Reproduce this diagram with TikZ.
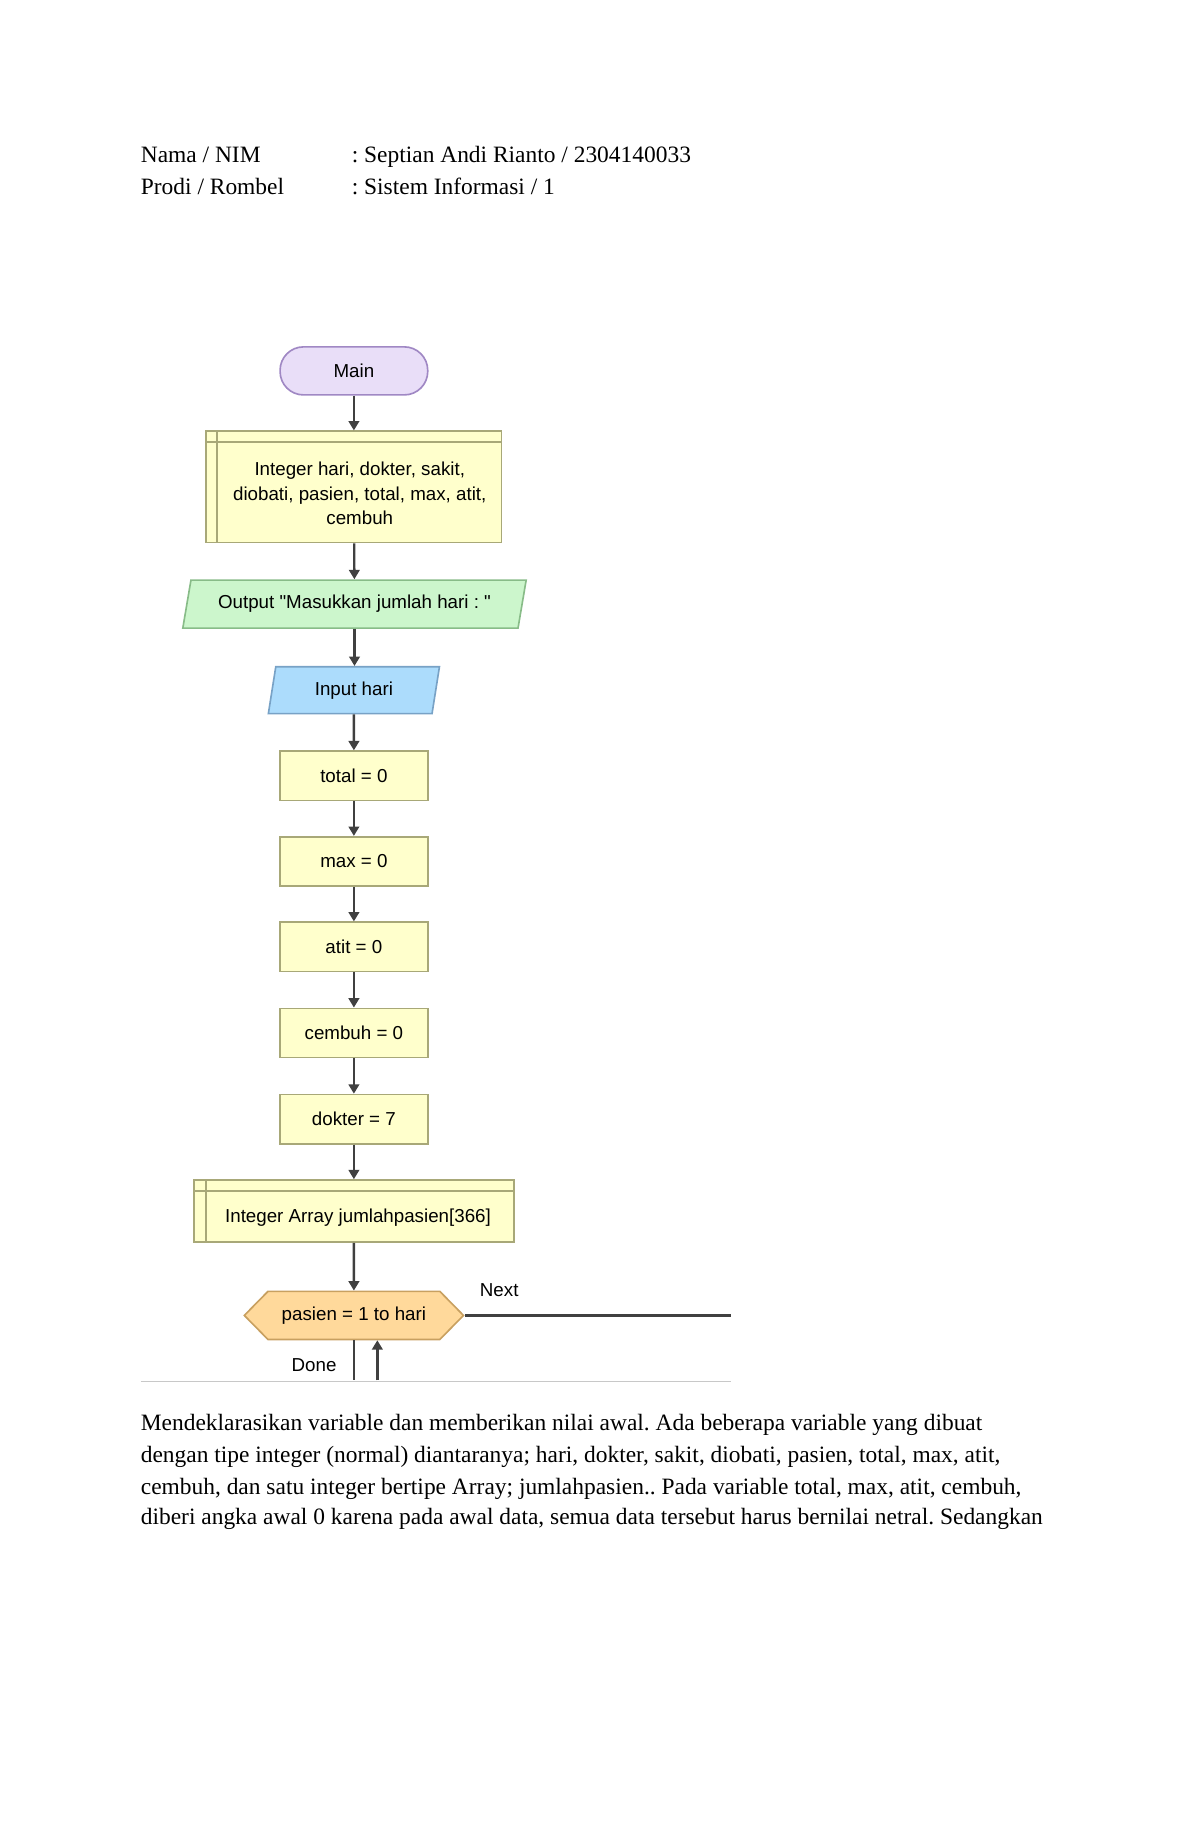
\documentclass[tikz,border=0pt]{standalone}
\usepackage{fontspec}
\setmainfont{Liberation Serif}
\newfontfamily\flowfont{Liberation Sans}
\usetikzlibrary{shapes.geometric,shapes.symbols,arrows.meta}
\frenchspacing
\definecolor{arrowc}{HTML}{404040}
\definecolor{termfill}{HTML}{E9DEF8}
\definecolor{termdraw}{HTML}{A088C4}
\definecolor{procfill}{HTML}{FFFFCC}
\definecolor{procdraw}{HTML}{A8A878}
\definecolor{outfill}{HTML}{CCF6CC}
\definecolor{outdraw}{HTML}{88BC88}
\definecolor{infill}{HTML}{ACDCFC}
\definecolor{indraw}{HTML}{78A2C6}
\definecolor{loopfill}{HTML}{FFD99B}
\definecolor{loopdraw}{HTML}{C8A060}
\definecolor{sepc}{HTML}{C8C8C8}
\tikzset{
  flowtext/.style={font=\flowfont\fontsize{16}{21}\selectfont, align=center, inner sep=0pt},
  doctext/.style={font=\fontsize{20}{27}\selectfont, anchor=base west, inner sep=0pt},
  termbox/.style={draw=termdraw, fill=termfill, line width=1.4pt, rounded corners=20pt,
    minimum width=126pt, minimum height=41pt, flowtext},
  procbox/.style={draw=procdraw, fill=procfill, line width=1.4pt,
    minimum width=126pt, minimum height=42pt, flowtext},
  declbox/.style={draw=procdraw, fill=procfill, line width=1.4pt, inner sep=0pt},
  innerline/.style={draw=procdraw, line width=1.2pt},
  iobox/.style={trapezium, trapezium stretches body, line width=1.4pt, flowtext},
  loopbox/.style={signal, signal to=east and west, signal pointer angle=91,
    draw=loopdraw, fill=loopfill, line width=1.4pt, minimum width=187pt, minimum height=41pt, flowtext},
  flowarrow/.style={draw=arrowc, line width=2pt, -{Triangle[width=9pt,length=8pt]}},
  flowline/.style={draw=arrowc, line width=2pt},
}
\begin{document}
\begin{tikzpicture}[x=1pt,y=-1pt]
\useasboundingbox (0,0) rectangle (1024,1565.9);

% header
\node[doctext] (h1a) at (120,139) {Nama / NIM};
\node[doctext] (h1b) at (300,139) {: Septian Andi Rianto / 2304140033};
\node[doctext] (h2a) at (120,166) {Prodi / Rombel};
\node[doctext] (h2b) at (300,166) {: Sistem Informasi / 1};

% flowchart
\node[termbox] (main) at (302,316.5) {Main};

\node[declbox, minimum width=252pt, minimum height=95pt] (d1) at (302,415.5) {};
\draw[innerline] ([yshift=-10pt]d1.north west) -- ([yshift=-10pt]d1.north east);
\draw[innerline] ([xshift=10pt]d1.north west) -- ([xshift=10pt]d1.south west);
\node[flowtext] (d1t) at (307,421) {Integer hari, dokter, sakit,\\diobati, pasien, total, max, atit,\\cembuh};

\node[iobox, trapezium left angle=65, trapezium right angle=115, draw=outdraw, fill=outfill,
  minimum width=293pt, minimum height=41pt] (out) at (302.5,515.5) {Output "Masukkan jumlah hari : "};
\node[iobox, trapezium left angle=67, trapezium right angle=113, draw=indraw, fill=infill,
  minimum width=146pt, minimum height=40pt] (inp) at (302,589) {Input hari};

\node[procbox] (p1) at (302,662) {total = 0};
\node[procbox] (p2) at (302,735) {max = 0};
\node[procbox] (p3) at (302,808) {atit = 0};
\node[procbox] (p4) at (302,881.5) {cembuh = 0};
\node[procbox] (p5) at (302,955) {dokter = 7};

\node[declbox, minimum width=273pt, minimum height=53pt] (d2) at (302,1033.5) {};
\draw[innerline] ([yshift=-10pt]d2.north west) -- ([yshift=-10pt]d2.north east);
\draw[innerline] ([xshift=11pt]d2.north west) -- ([xshift=11pt]d2.south west);
\node[flowtext] (d2t) at (305.5,1039) {Integer Array jumlahpasien[366]};

\node[loopbox] (loop) at (302,1122.5) {pasien = 1 to hari};

\node[flowtext] (nextl) at (426,1101) {Next};
\node[flowtext] (donel) at (268,1165) {Done};

\coordinate (nextend) at (624,1122.5);
\coordinate (doneend) at (302,1178);
\coordinate (backin) at (322,1178);
\coordinate (sepl) at (120,1179);
\coordinate (sepr) at (624,1179);

\draw[flowarrow] (main) -- (d1);
\draw[flowarrow] (d1) -- (out);
\draw[flowarrow] (out.south) -- (out.south |- inp.north);
\draw[flowarrow] (inp) -- (p1);
\draw[flowarrow] (p1) -- (p2);
\draw[flowarrow] (p2) -- (p3);
\draw[flowarrow] (p3) -- (p4);
\draw[flowarrow] (p4) -- (p5);
\draw[flowarrow] (p5) -- (d2);
\draw[flowarrow] (d2) -- (loop);
\draw[flowline] (loop.east) -- (nextend);
\draw[flowline] (loop.south) -- (doneend);
\draw[flowarrow] (backin) -- (backin |- loop.south);
\draw[draw=sepc, line width=1.2pt] (sepl) -- (sepr);

% paragraph
\node[doctext] (t1) at (120,1221) {Mendeklarasikan variable dan memberikan nilai awal. Ada beberapa variable yang dibuat};
\node[doctext] (t2) at (120,1248) {dengan tipe integer (normal) diantaranya; hari, dokter, sakit, diobati, pasien, total, max, atit,};
\node[doctext] (t3) at (120,1275) {cembuh, dan satu integer bertipe Array; jumlahpasien.. Pada variable total, max, atit, cembuh,};
\node[doctext] (t4) at (120,1301) {diberi angka awal 0 karena pada awal data, semua data tersebut harus bernilai netral. Sedangkan};
\end{tikzpicture}
\end{document}
